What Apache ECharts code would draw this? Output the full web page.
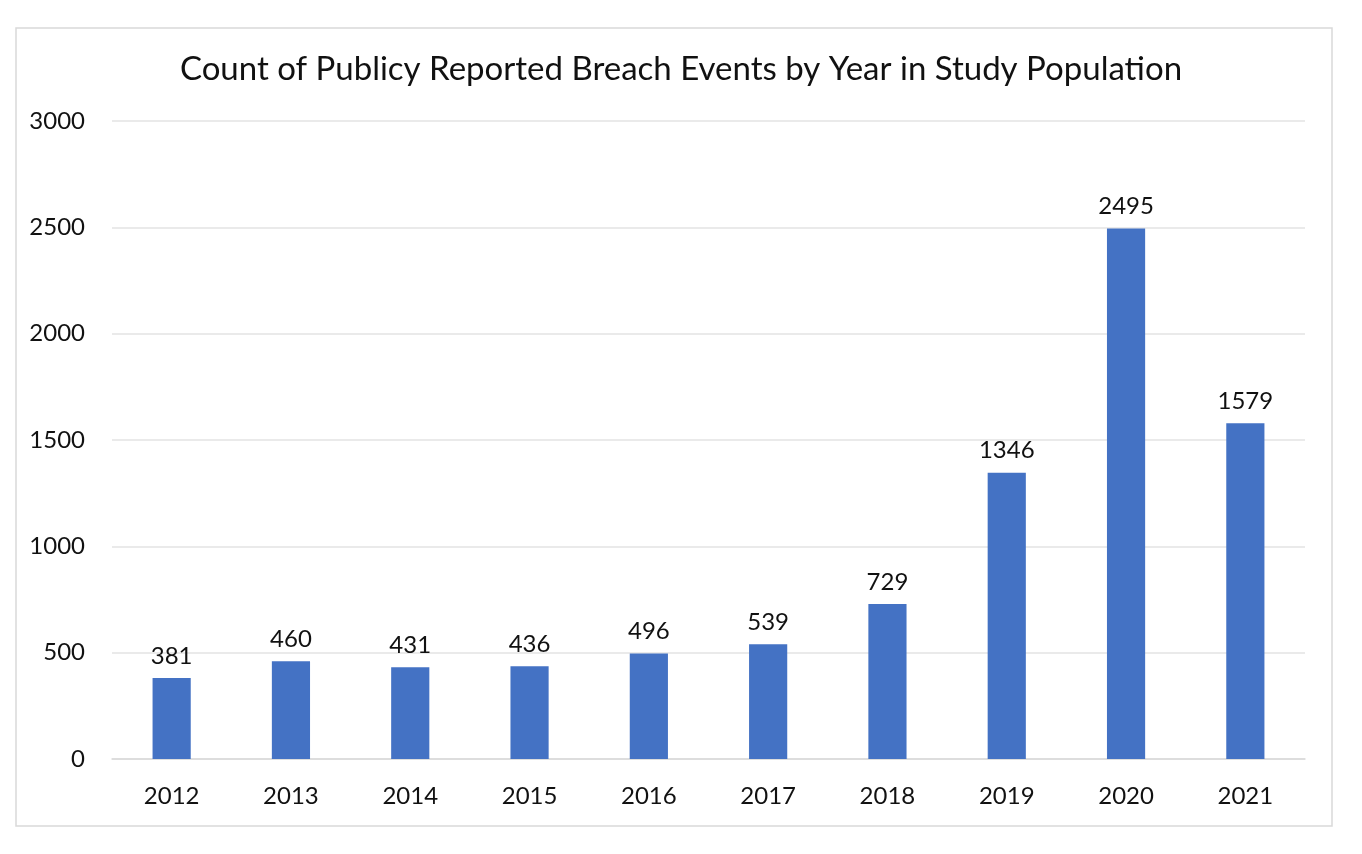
<!DOCTYPE html>
<html>
<head>
<meta charset="utf-8">
<script src="https://cdn.jsdelivr.net/npm/echarts@6/dist/echarts.min.js"></script>
<style>
  html, body { margin: 0; padding: 0; background: #fff; }
  #chart { width: 1362px; height: 854px; }
</style>
</head>
<body>
<div id="chart"></div>
<script>
  const years = ['2012', '2013', '2014', '2015', '2016', '2017', '2018', '2019', '2020', '2021'];
  const counts = [381, 460, 431, 436, 496, 539, 729, 1346, 2495, 1579];
  const yTicks = [0, 500, 1000, 1500, 2000, 2500, 3000];

  const font = 'Lato, "Open Sans", sans-serif';
  const chart = echarts.init(document.getElementById('chart'));

  chart.setOption({
    animation: false,
    textStyle: { fontFamily: font },
    graphic: [{
      type: 'rect',
      shape: { x: 16, y: 28, width: 1316, height: 798 },
      style: { fill: 'none', stroke: '#d9d9d9', lineWidth: 1.5 },
      silent: true
    }],
    title: {
      text: 'Count of Publicy Reported Breach Events by Year in Study Population',
      left: 'center',
      top: 48,
      textStyle: { fontSize: 33, fontWeight: 'normal', color: '#111', fontFamily: font }
    },
    grid: { left: 112, right: 57, top: 121, bottom: 95 },
    xAxis: {
      type: 'category',
      data: years,
      axisTick: { show: false },
      axisLine: { lineStyle: { color: '#d9d9d9', width: 1.5 } },
      axisLabel: { color: '#111', fontSize: 24, margin: 25, fontFamily: font }
    },
    yAxis: {
      type: 'value',
      min: yTicks[0],
      max: yTicks[yTicks.length - 1],
      interval: 500,
      axisLine: { show: false },
      axisTick: { show: false },
      splitLine: { lineStyle: { color: '#e3e3e3', width: 1.5 } },
      axisLabel: {
        color: '#111',
        fontSize: 24,
        margin: 27,
        fontFamily: font,
        formatter: (v) => String(v)
      }
    },
    series: [{
      type: 'bar',
      data: counts,
      barWidth: '32%',
      itemStyle: { color: '#4472c4' },
      label: {
        show: true,
        position: 'top',
        distance: 10,
        color: '#111',
        fontSize: 24,
        fontFamily: font
      }
    }]
  });
</script>
</body>
</html>
